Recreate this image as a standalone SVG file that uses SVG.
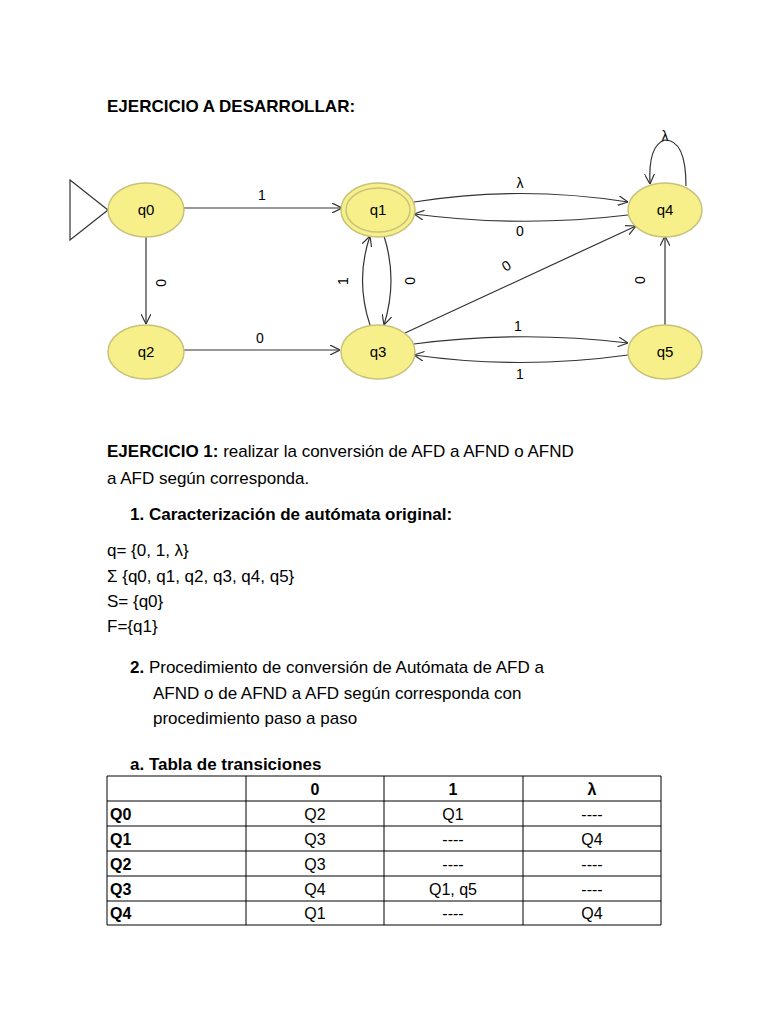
<svg xmlns="http://www.w3.org/2000/svg" width="768" height="1024" viewBox="0 0 768 1024">
<style>
text{font-family:"Liberation Sans",Arial,sans-serif;fill:#000}
.t{font-size:17px}
.b{font-weight:bold}
.h{font-size:16px;font-weight:bold;text-anchor:start}
.n ellipse{fill:#f7f08a;stroke:#c8c27a;stroke-width:1.5}
.n text{font-size:15px;text-anchor:middle}
.e{fill:none;stroke:#333;stroke-width:1.2;marker-end:url(#a)}
.l{font-size:14px;text-anchor:middle}
.g line{stroke:#000;stroke-width:1}
.c{font-size:16px;text-anchor:middle}
</style>
<defs><marker id="a" viewBox="0 0 10 10" refX="10" refY="5" markerWidth="10" markerHeight="10" orient="auto" markerUnits="userSpaceOnUse"><path d="M0,0 L10,5 L0,10" fill="none" stroke="#333" stroke-width="1.2"/></marker></defs>
<rect width="768" height="1024" fill="#fff"/>
<text x="107" y="112" class="t b">EJERCICIO A DESARROLLAR:</text>
<g id="connectors">
<polygon points="70,180 108,210 70,240" fill="#fff" stroke="#333" stroke-width="1.2"/>
<path class="e" d="M184,208 L342,208"/>
<path class="e" d="M146,237 L146,324"/>
<path class="e" d="M184,350 L340,350"/>
<path class="e" d="M414,202 Q520,185 628,202"/>
<path class="e" d="M628,215 Q520,228 414,214"/>
<path class="e" d="M370,325 Q355,280 370,236"/>
<path class="e" d="M384,236 Q398,280 384,325"/>
<path class="e" d="M405,333 L636,226"/>
<path class="e" d="M414,344 Q520,330 628,343"/>
<path class="e" d="M628,355 Q520,370 414,355"/>
<path class="e" d="M665,325 L665,236"/>
<path class="e" d="M686,186 Q686,140 665,140 Q648,145 650,184"/>
<text x="262" y="200" class="l">1</text>
<text x="520" y="188" class="l">λ</text>
<text x="520" y="236" class="l">0</text>
<text x="260" y="343" class="l">0</text>
<text x="518" y="331" class="l">1</text>
<text x="520" y="379" class="l">1</text>
<text x="665" y="141" class="l">λ</text>
<text transform="translate(156,283) rotate(90)" class="l">0</text>
<text transform="translate(348,281) rotate(-90)" class="l">1</text>
<text transform="translate(405,281) rotate(90)" class="l">0</text>
<text transform="translate(509,270) rotate(-33)" class="l">0</text>
<text transform="translate(645,280) rotate(-90)" class="l">0</text>
</g>
<g id="q0" class="n"><ellipse cx="146" cy="210" rx="38" ry="27"/><text x="146" y="215">q0</text></g>
<g id="q1" class="n"><ellipse cx="378" cy="210" rx="37" ry="27"/><ellipse cx="378" cy="210" rx="32" ry="22"/><text x="378" y="215">q1</text></g>
<g id="q4" class="n"><ellipse cx="665" cy="210" rx="37" ry="27"/><text x="665" y="215">q4</text></g>
<g id="q2" class="n"><ellipse cx="146" cy="352" rx="38" ry="27"/><text x="146" y="357">q2</text></g>
<g id="q3" class="n"><ellipse cx="378" cy="352" rx="37" ry="27"/><text x="378" y="357">q3</text></g>
<g id="q5" class="n"><ellipse cx="665" cy="352" rx="37" ry="27"/><text x="665" y="357">q5</text></g>
<text x="107" y="457" class="t"><tspan class="b">EJERCICIO 1:</tspan> realizar la conversión de AFD a AFND o AFND</text>
<text x="107" y="484" class="t">a AFD según corresponda.</text>
<text x="130" y="520" class="t b">1. Caracterización de autómata original:</text>
<text x="107" y="556" class="t">q= {0, 1, λ}</text>
<text x="107" y="582" class="t">Σ {q0, q1, q2, q3, q4, q5}</text>
<text x="107" y="607" class="t">S= {q0}</text>
<text x="107" y="632" class="t">F={q1}</text>
<text x="130" y="673" class="t"><tspan class="b">2.</tspan> Procedimiento de conversión de Autómata de AFD a</text>
<text x="153" y="699" class="t">AFND o de AFND a AFD según corresponda con</text>
<text x="153" y="724" class="t">procedimiento paso a paso</text>
<text x="130" y="770" class="t b">a. Tabla de transiciones</text>
<g class="g">
<line x1="107" y1="776" x2="661" y2="776"/><line x1="107" y1="801" x2="661" y2="801"/><line x1="107" y1="826" x2="661" y2="826"/><line x1="107" y1="851" x2="661" y2="851"/><line x1="107" y1="876" x2="661" y2="876"/><line x1="107" y1="901" x2="661" y2="901"/><line x1="107" y1="925" x2="661" y2="925"/>
<line x1="107" y1="776" x2="107" y2="925"/><line x1="246" y1="776" x2="246" y2="925"/><line x1="384" y1="776" x2="384" y2="925"/><line x1="523" y1="776" x2="523" y2="925"/><line x1="661" y1="776" x2="661" y2="925"/>
</g>
<g id="table-text">
<text x="315" y="795" class="c b">0</text><text x="453" y="795" class="c b">1</text><text x="592" y="795" class="c b">λ</text>
<text x="110" y="820" class="h">Q0</text><text x="315" y="820" class="c">Q2</text><text x="453" y="820" class="c">Q1</text><text x="592" y="820" class="c">----</text>
<text x="110" y="845" class="h">Q1</text><text x="315" y="845" class="c">Q3</text><text x="453" y="845" class="c">----</text><text x="592" y="845" class="c">Q4</text>
<text x="110" y="870" class="h">Q2</text><text x="315" y="870" class="c">Q3</text><text x="453" y="870" class="c">----</text><text x="592" y="870" class="c">----</text>
<text x="110" y="895" class="h">Q3</text><text x="315" y="895" class="c">Q4</text><text x="453" y="895" class="c">Q1, q5</text><text x="592" y="895" class="c">----</text>
<text x="110" y="919" class="h">Q4</text><text x="315" y="919" class="c">Q1</text><text x="453" y="919" class="c">----</text><text x="592" y="919" class="c">Q4</text>
</g>
</svg>
